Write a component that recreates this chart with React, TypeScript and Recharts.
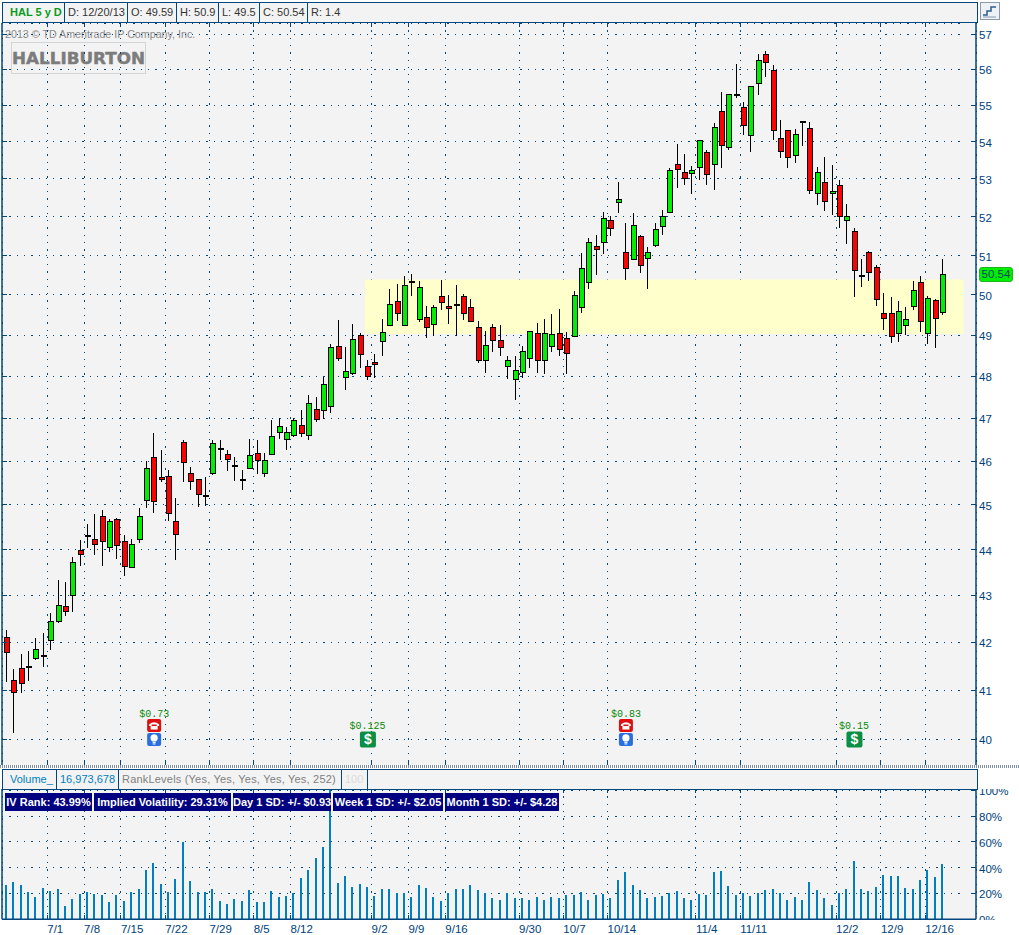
import React from "react";
import {
  ComposedChart,
  BarChart,
  Bar,
  XAxis,
  YAxis,
  CartesianGrid,
  ReferenceArea,
  ReferenceDot,
} from "recharts";

const opens = [42.11,41.21,41.46,41.49,41.67,41.72,42.04,42.45,42.77,43.00,44.00,44.30,44.23,44.74,44.07,44.68,44.18,43.63,44.23,45.11,46.09,45.64,45.66,44.64,46.45,45.73,45.59,45.20,45.73,46.29,46.16,45.88,45.56,45.84,46.19,45.73,46.17,46.67,46.51,46.59,46.84,46.60,47.21,47.19,47.30,48.73,47.98,48.07,49.00,48.24,48.34,48.85,49.27,49.85,49.25,50.33,49.40,49.45,49.27,49.98,49.72,49.74,49.97,49.70,49.20,48.39,49.20,48.88,48.24,47.93,48.10,48.44,49.05,48.39,48.73,49.05,48.93,48.99,49.70,50.35,51.25,51.36,51.92,52.38,51.08,50.92,51.49,50.95,51.28,51.77,52.13,53.40,53.19,53.16,53.32,53.73,53.40,54.84,53.84,55.28,54.95,54.19,55.61,56.44,55.97,54.11,54.32,53.65,54.53,54.38,52.61,52.92,52.63,52.84,51.92,51.64,50.48,51.08,50.72,49.55,49.55,49.05,49.25,49.72,50.33,49.07,49.87,49.59];
const highs = [42.26,41.44,41.76,41.82,42.10,42.19,42.62,43.34,43.30,43.83,44.21,44.57,44.80,44.89,44.68,44.71,44.32,44.23,44.93,46.00,46.66,46.25,45.80,45.16,46.50,45.86,45.59,45.64,46.48,46.50,46.26,46.09,45.80,46.51,46.50,46.19,46.95,47.00,46.79,47.00,47.20,47.55,47.50,47.99,48.78,49.38,48.71,49.28,49.05,48.40,48.54,49.40,50.16,50.28,50.49,50.52,50.36,49.73,49.75,50.38,50.00,50.26,50.03,49.90,49.36,49.11,49.27,49.26,48.49,48.49,48.73,49.10,49.30,49.40,49.53,49.65,49.08,50.10,51.06,51.44,51.52,52.13,52.03,52.93,51.85,52.09,51.54,51.21,51.83,52.19,53.29,53.95,53.68,53.35,54.05,53.78,54.51,55.36,55.30,56.15,55.08,55.53,56.44,56.51,56.11,54.60,54.32,54.35,54.53,54.54,53.33,53.59,53.36,52.98,52.35,51.72,50.92,51.11,50.77,50.05,49.95,49.86,49.70,50.36,50.48,49.97,49.90,50.90];
const lows = [41.18,40.12,40.95,41.20,41.62,41.49,41.84,42.40,42.55,42.65,43.64,44.04,43.88,43.64,43.95,43.80,43.42,43.63,44.15,44.92,44.81,45.52,44.63,43.77,45.53,45.33,44.95,44.97,45.68,46.03,45.77,45.54,45.33,45.84,45.71,45.63,46.15,46.52,46.26,46.55,46.55,46.48,46.90,46.99,47.13,48.38,47.67,48.04,48.21,47.90,47.97,48.48,49.24,49.36,49.22,49.98,49.32,48.93,48.97,49.62,49.28,48.97,49.38,49.32,48.33,48.08,48.60,48.50,47.94,47.44,47.97,48.19,48.09,48.06,48.60,48.48,48.06,48.95,49.55,50.14,50.50,51.04,51.50,52.09,50.39,50.92,50.55,50.16,51.23,51.52,52.09,52.76,52.83,52.59,52.98,52.83,52.70,53.29,53.78,55.19,54.19,53.71,55.27,55.77,54.04,53.56,53.29,53.42,53.88,52.60,52.30,52.15,52.04,51.71,51.29,49.94,50.20,50.34,49.72,49.14,48.82,48.84,49.00,49.62,49.09,48.79,48.69,49.50];
const closes = [41.79,40.96,41.15,41.49,41.85,41.72,42.45,42.79,42.66,43.72,43.91,44.30,44.13,44.18,44.64,44.11,43.63,44.13,44.74,45.84,45.09,45.59,44.82,44.34,45.98,45.55,45.25,45.20,46.42,46.29,46.05,45.88,45.56,46.14,46.02,46.02,46.58,46.81,46.67,46.95,46.65,47.36,46.98,47.81,48.71,48.43,48.12,48.90,48.54,48.00,48.29,49.07,49.78,49.55,50.25,50.33,50.20,49.20,49.70,49.82,49.67,49.74,49.55,49.35,48.39,48.76,48.88,48.70,48.39,48.15,48.61,49.10,48.39,49.05,49.02,48.66,48.56,50.00,50.69,51.36,51.17,51.97,51.72,52.47,50.67,51.79,50.74,51.10,51.69,52.03,53.24,53.27,53.03,53.24,54.05,53.14,54.40,53.92,55.30,55.28,54.46,55.53,56.25,56.22,54.32,53.76,53.59,54.22,54.53,52.71,53.18,52.42,52.68,52.03,52.03,50.64,50.48,50.56,49.92,49.42,48.98,49.60,49.40,50.13,49.35,49.93,49.42,50.54];
const volumePct = [26.7,29,26.7,21.2,17.4,24.4,22,23.6,10.4,15.8,19.7,21.2,19.7,18.9,13.5,18.9,14.2,21.2,23.6,38.3,43.8,27.5,21.2,31.3,59.8,29.8,21.2,21.2,23.6,14.2,11.9,15.8,14.2,22.8,13.5,13.5,22,17.4,18.1,20.5,32.1,38.3,47.7,56.2,100,28.2,33.7,25.1,27.5,25.1,18.1,23.6,23.6,20.5,20.5,17.4,26.7,24.4,17.4,14.2,20.5,23.6,23.6,26.7,22.8,20.5,16.6,15,20.5,16.6,16.6,15,17.4,15,17.4,16.6,18.9,18.9,21.2,15,18.9,19.7,16.6,30.6,36.8,26.7,22.8,16.6,17.4,18.1,20.5,22,16.6,15,19.7,18.9,36.8,37.6,25.9,18.9,20.5,18.1,20.5,22.8,23.6,20.5,15,17.4,15,29,22.8,16.6,11.1,20.5,23.6,45.3,23.6,22,25.1,34.5,33.7,33.7,24.4,23.6,30.6,38.3,32.9,43];

const dateTickPositions = [5.5,10.5,15.5,21.5,27.5,33.5,38.5,49.5,54.5,59.5,69.5,75.5,81.5,93.5,99.5,112.5,118.6,124.6];
const dateTickLabels = ["7/1","7/8","7/15","7/22","7/29","8/5","8/12","9/2","9/9","9/16","9/30","10/7","10/14","11/4","11/11","12/2","12/9","12/16"];
const priceTicks = [40,41,42,43,44,45,46,47,48,49,50,51,52,53,54,55,56,57];
const pctTicks = [0,20,40,60,80,100];

const earnings = [{ day: 20, label: "$0.73" }, { day: 84, label: "$0.83" }];
const dividends = [{ day: 49, label: "$0.125" }, { day: 115, label: "$0.15" }];
const zone = { fromDay: 48.6, toDay: 129.8, low: 49.03, high: 50.39 };

const candles = opens.map((o, i) => ({
  day: i,
  open: o,
  close: closes[i],
  wick: [lows[i], highs[i]],
  body: [Math.min(o, closes[i]), Math.max(o, closes[i])],
}));
const volumes = volumePct.map((v, i) => ({ day: i, volume: v }));

const NAVY = "#00467f";
const TEXT = "#003f7c";
const SANS = "'Liberation Sans', Arial, sans-serif";
const X_DOMAIN: [number, number] = [-0.6376, 131.49];
const PRICE_DOMAIN: [number, number] = [39.47, 57.316];
const SHIFT = -0.6;

const snap = (x: number, width: number) => Math.floor(x + width / 2 + SHIFT) + 0.5;

const Wick = (p: any) => {
  const cx = snap(p.x, p.width);
  return <line x1={cx} x2={cx} y1={p.y} y2={p.y + p.height} stroke="#000" strokeWidth={1} shapeRendering="crispEdges" />;
};
const Body = (p: any) => {
  const cx = snap(p.x, p.width);
  const d = p.payload;
  if (d.open === d.close) {
    return <rect x={cx - 2.5} y={Math.round(p.y) - 1} width={6} height={2} fill="#000" shapeRendering="crispEdges" />;
  }
  const fill = d.close > d.open ? "#00ee00" : "#ff0000";
  return (
    <rect x={cx - 2} y={Math.round(p.y) + 0.5} width={5} height={Math.max(1, Math.round(p.height))}
      fill={fill} stroke="#000" strokeWidth={1} shapeRendering="crispEdges" />
  );
};
const VolumeBar = (p: any) => {
  const cx = snap(p.x, p.width);
  return <rect x={cx - 1.5} y={p.y} width={2} height={p.height} fill="#0080c0" shapeRendering="crispEdges" />;
};

const RightTick = (p: any) => (
  <g>
    <line x1={p.x - 5} x2={p.x} y1={p.y} y2={p.y} stroke={NAVY} shapeRendering="crispEdges" />
    <text x={p.x + 3} y={p.y + 5} fontFamily={SANS} fontSize={11.5} fill={TEXT} stroke="none">{p.suffix ? `${p.payload.value}%` : p.payload.value}</text>
  </g>
);
const LeftTick = (p: any) => <line x1={p.x} x2={p.x + 5} y1={p.y} y2={p.y} stroke={NAVY} shapeRendering="crispEdges" />;
const TopTick = (p: any) => <line x1={p.x} x2={p.x} y1={p.y} y2={p.y + 4} stroke={NAVY} shapeRendering="crispEdges" />;
const BottomTick = (p: any) => <line x1={p.x} x2={p.x} y1={p.y - 4} y2={p.y} stroke={NAVY} shapeRendering="crispEdges" />;
const DateTick = (p: any) => {
  const i = dateTickPositions.indexOf(p.payload.value);
  return (
    <g>
      <line x1={p.x} x2={p.x} y1={p.y - 4} y2={p.y} stroke={NAVY} shapeRendering="crispEdges" />
      <text x={p.x} y={p.y + 14} fontFamily={SANS} fontSize={11.5} fill={TEXT} stroke="none">{dateTickLabels[i]}</text>
    </g>
  );
};

const EventLabel = ({ cx, y, text }: any) => (
  <text x={cx} y={y} textAnchor="middle" fontFamily="'Liberation Mono', monospace" fontSize={10} fill="#0a8a0a">{text}</text>
);
const PhoneIcon = ({ cx, cy, label }: any) => (
  <g>
    <EventLabel cx={cx} y={cy - 8.5} text={label} />
    <rect x={cx - 7} y={cy - 6.5} width={14} height={13} rx={2} fill="#dd1111" />
    <path d={`M${cx - 5} ${cy - 1}q5 -4.5 10 0v1.5h-2.5v-1.5h-5v1.5h-2.5z`} fill="#fff" />
    <rect x={cx - 3.5} y={cy + 0.5} width={7} height={3.5} fill="#fff" />
  </g>
);
const BulbIcon = ({ cx, cy }: any) => (
  <g>
    <rect x={cx - 7} y={cy - 6.5} width={14} height={13} rx={2} fill="#2a6fe0" />
    <circle cx={cx} cy={cy - 1.5} r={3.6} fill="#fff" />
    <rect x={cx - 1.5} y={cy + 2.5} width={3} height={1} fill="#fff" />
    <rect x={cx - 1.5} y={cy + 4} width={3} height={1} fill="#fff" />
  </g>
);
const DollarIcon = ({ cx, cy, label }: any) => (
  <g>
    <text x={cx - 0.5} y={cy - 10} textAnchor="middle" fontFamily="'Liberation Mono', monospace" fontSize={10} fill="#0a8a0a">{label}</text>
    <rect x={cx - 8} y={cy - 8} width={16} height={16} rx={2} fill="#0a8f45" />
    <text x={cx} y={cy + 5} textAnchor="middle" fontFamily={SANS} fontWeight="bold" fontSize={14} fill="#fff">$</text>
  </g>
);

const topCells = [
  { text: "HAL 5 y D", x0: 2, x1: 64, color: "#0a9a1e", bold: true },
  { text: "D: 12/20/13", x0: 64, x1: 127, color: "#333" },
  { text: "O: 49.59", x0: 127, x1: 176, color: "#333" },
  { text: "H: 50.9", x0: 176, x1: 218, color: "#333" },
  { text: "L: 49.5", x0: 218, x1: 259, color: "#333" },
  { text: "C: 50.54", x0: 259, x1: 307, color: "#333" },
  { text: "R: 1.4", x0: 307, x1: 977, color: "#333" },
];
const volumeCells = [
  { text: "Volume_", x0: 2, x1: 56, color: "#0080c0" },
  { text: "16,973,678", x0: 56, x1: 118, color: "#0080c0" },
  { text: "RankLevels (Yes, Yes, Yes, Yes, Yes, 252)", x0: 118, x1: 341, color: "#808080", spacing: 0.2 },
  { text: "100", x0: 341, x1: 367, color: "#dcdcdc" },
  { text: "", x0: 367, x1: 977, color: "#333" },
];
const badges = [
  { text: "IV Rank: 43.99%", x0: 5, x1: 92 },
  { text: "Implied Volatility: 29.31%", x0: 94, x1: 231 },
  { text: "Day 1 SD: +/- $0.93", x0: 233, x1: 331 },
  { text: "Week 1 SD: +/- $2.05", x0: 333, x1: 443 },
  { text: "Month 1 SD: +/- $4.28", x0: 445, x1: 559 },
];

const abs = (left: number, top: number, width: number, height: number): React.CSSProperties => ({
  position: "absolute", left, top, width, height, boxSizing: "border-box",
});

const CellRow = ({ cells, top, height, fontSize }: any) => (
  <>
    {cells.map((c: any, i: number) => (
      <div key={i} style={{
        ...abs(c.x0, top, c.x1 - c.x0 + 1, height),
        border: `1px solid ${NAVY}`, background: "#f3f3f3", color: c.color,
        fontFamily: SANS, fontSize, fontWeight: c.bold ? "bold" : "normal",
        lineHeight: `${height - 2}px`, paddingLeft: i === 0 ? 7 : 3, whiteSpace: "nowrap",
        letterSpacing: c.spacing || 0,
      }}>{c.text}</div>
    ))}
  </>
);

export default function App() {
  return (
    <div style={{ position: "absolute", left: 0, top: 0, width: 1019, height: 935, background: "#fff", overflow: "hidden" }}>
      <div style={{ ...abs(2, 22, 975, 745), background: "#f3f3f3" }} />
      <div style={{ ...abs(2, 789, 975, 131), background: "#f3f3f3" }} />

      {/* watermark */}
      <svg style={abs(0, 22, 200, 60)} width={200} height={60}>
        <text x={5} y={16} fontFamily={SANS} fontSize={10.7} fill="#8a8a8a">2013 © TD Ameritrade IP Company, Inc.</text>
        <rect x={11.5} y={20.5} width={134} height={31} fill="none" stroke="#d4d4d4" />
        <text x={12} y={42} fontFamily="'DejaVu Sans', sans-serif" fontWeight="bold" fontSize={15} fill="#7c7c7c" stroke="#7c7c7c" strokeWidth={0.4}
          textLength={133} lengthAdjust="spacingAndGlyphs">HALLIBURTON</text>
      </svg>

      <div style={abs(0, 0, 1019, 768)}>
        <ComposedChart width={1019} height={768} data={candles} margin={{ top: 22, right: 42, bottom: 1, left: 1 }}>
          <ReferenceArea xAxisId="body" yAxisId="price" x1={zone.fromDay} x2={zone.toDay} y1={zone.low} y2={zone.high}
            fill="#ffffcc" fillOpacity={1} stroke="none" />
          <CartesianGrid xAxisId="body" yAxisId="price" width={961} stroke={NAVY} strokeDasharray="1.3 6" shapeRendering="crispEdges" />
          <XAxis xAxisId="body" dataKey="day" type="number" domain={X_DOMAIN} allowDataOverflow ticks={dateTickPositions}
            interval={0} height={1} tickSize={0} tickMargin={0} tickLine={false} stroke={NAVY} strokeWidth={1.5} tick={<BottomTick />} />
          <XAxis xAxisId="wick" dataKey="day" type="number" domain={X_DOMAIN} allowDataOverflow ticks={dateTickPositions} hide />
          <XAxis xAxisId="top" orientation="top" dataKey="day" type="number" domain={X_DOMAIN} allowDataOverflow ticks={dateTickPositions}
            interval={0} height={1} tickSize={0} tickMargin={0} tickLine={false} axisLine={false} tick={<TopTick />} />
          <YAxis yAxisId="price" orientation="right" scale="log" type="number" domain={PRICE_DOMAIN} allowDataOverflow ticks={priceTicks}
            interval={0} width={1} tickSize={0} tickMargin={0} tickLine={false} stroke={NAVY} strokeWidth={1.5} tick={<RightTick />} />
          <YAxis yAxisId="left" orientation="left" scale="log" type="number" domain={PRICE_DOMAIN} allowDataOverflow ticks={priceTicks}
            interval={0} width={1} tickSize={0} tickMargin={0} tickLine={false} stroke={NAVY} strokeWidth={1.5} tick={<LeftTick />} />
          <Bar xAxisId="wick" yAxisId="price" dataKey="wick" barSize={6} shape={<Wick />} isAnimationActive={false} />
          <Bar xAxisId="body" yAxisId="price" dataKey="body" barSize={6} shape={<Body />} isAnimationActive={false} />
          {earnings.map((e) => (
            <ReferenceDot key={`p${e.day}`} xAxisId="body" yAxisId="price" x={e.day} y={40.28} shape={<PhoneIcon label={e.label} />} />
          ))}
          {earnings.map((e) => (
            <ReferenceDot key={`b${e.day}`} xAxisId="body" yAxisId="price" x={e.day} y={40} shape={<BulbIcon />} />
          ))}
          {dividends.map((e) => (
            <ReferenceDot key={`d${e.day}`} xAxisId="body" yAxisId="price" x={e.day} y={40} shape={<DollarIcon label={e.label} />} />
          ))}
        </ComposedChart>
      </div>

      <div style={abs(0, 770, 1019, 165)}>
        <BarChart width={1019} height={165} data={volumes} margin={{ top: 18, right: 42, bottom: 14.7, left: 1 }}>
          <CartesianGrid xAxisId="v" yAxisId="pct" width={961} stroke={NAVY} strokeDasharray="1.3 6" shapeRendering="crispEdges" />
          <XAxis xAxisId="v" dataKey="day" type="number" domain={X_DOMAIN} allowDataOverflow ticks={dateTickPositions}
            interval={0} height={1} tickSize={0} tickMargin={0} tickLine={false} stroke={NAVY} strokeWidth={1.5} tick={<DateTick />} />
          <XAxis xAxisId="vtop" orientation="top" dataKey="day" type="number" domain={X_DOMAIN} allowDataOverflow ticks={dateTickPositions}
            interval={0} height={1} tickSize={0} tickMargin={0} tickLine={false} axisLine={false} tick={<TopTick />} />
          <YAxis yAxisId="pct" orientation="right" type="number" domain={[0, 101]} allowDataOverflow ticks={pctTicks}
            interval={0} width={1} tickSize={0} tickMargin={0} tickLine={false} stroke={NAVY} strokeWidth={1.5} tick={<RightTick suffix />} />
          <YAxis yAxisId="pctLeft" orientation="left" type="number" domain={[0, 101]} allowDataOverflow ticks={pctTicks}
            interval={0} width={1} tickSize={0} tickMargin={0} tick={false} tickLine={false} stroke={NAVY} strokeWidth={1.5} />
          <Bar xAxisId="v" yAxisId="pct" dataKey="volume" barSize={6} shape={<VolumeBar />} isAnimationActive={false} />
        </BarChart>
      </div>

      {/* chrome on top */}
      <div style={{ ...abs(977, 920, 42, 15), background: "#fff" }} />
      <div style={{ ...abs(977, 768, 42, 21), background: "#fff" }} />
      <CellRow cells={topCells} top={2} height={21} fontSize={11} />
      <div style={{ ...abs(0, 765, 1019, 3), background: "repeating-linear-gradient(90deg,#7f8f9f 0 1px,#ffffff 1px 2px)" }} />
      <CellRow cells={volumeCells} top={769} height={21} fontSize={11} />
      {badges.map((b) => (
        <div key={b.text} style={{
          ...abs(b.x0, 793, b.x1 - b.x0, 18), background: "#000080", color: "#fff", fontFamily: SANS,
          fontSize: 11, fontWeight: "bold", lineHeight: "18px", textAlign: "center", whiteSpace: "nowrap",
        }}>{b.text}</div>
      ))}
      <div style={{
        ...abs(979, 267, 34, 15), background: "#00ee00", border: "1px solid #1fb51f", borderRadius: 3, fontFamily: SANS,
        fontSize: 11.5, lineHeight: "13px", textAlign: "center", color: "#00466a",
      }}>50.54</div>
      <svg style={abs(980, 2, 20, 18)} width={20} height={18}>
        <rect x={0.5} y={0.5} width={19} height={17} fill="#eef2f6" stroke="#8a9aaa" />
        <path d="M3 13h4v-4h4v-4h5" fill="none" stroke="#2a5f8f" strokeWidth={1.5} />
        <path d="M3 15h13" stroke="#8a9aaa" />
      </svg>
    </div>
  );
}
